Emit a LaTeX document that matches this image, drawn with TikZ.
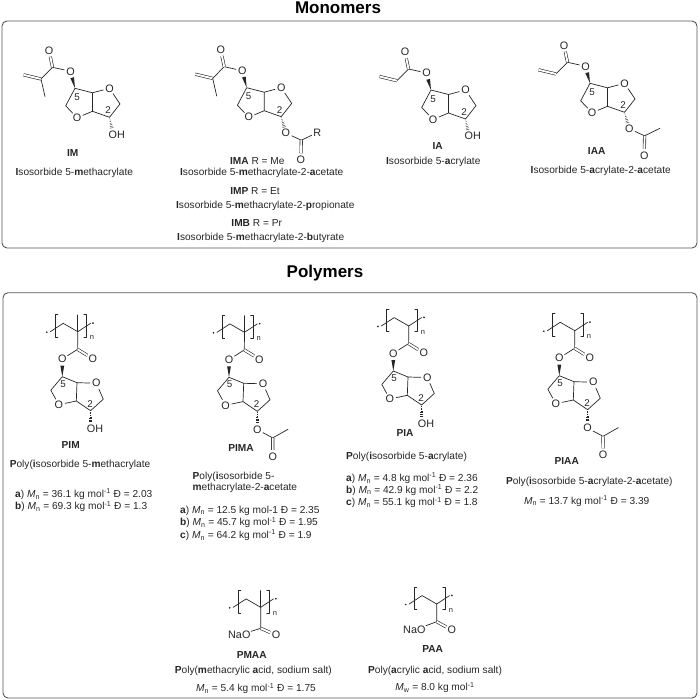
\documentclass[tikz,border=0pt]{standalone}
\usepackage{fontspec}
\setmainfont{Liberation Sans}
\usetikzlibrary{calc}
\definecolor{ink}{HTML}{262626}
\definecolor{frame}{HTML}{555555}
\tikzset{
  bond/.style={draw=ink,line width=0.7pt,line cap=round,line join=round},
  dbond/.style={bond,double=white,double distance=1.9pt,line width=0.6pt,line cap=butt},
  atom/.style={circle,inner sep=0.4pt,text=ink,font=\fontsize{10.8}{12}\selectfont},
  lab/.style={rectangle,inner sep=0.4pt,text=ink,font=\fontsize{10.8}{12}\selectfont},
  num/.style={inner sep=0pt,text=ink,font=\fontsize{9.8}{10}\selectfont},
  sub/.style={inner sep=0pt,text=ink,font=\fontsize{7.5}{9}\selectfont},
  txt/.style={inner sep=0pt,text=ink,text height=7.2pt,text depth=2pt,font=\fontsize{10.15}{12}\selectfont},
  hd/.style={inner sep=0pt,text=black,font=\fontsize{17}{20}\selectfont\bfseries},
  panel/.style={draw=frame,line width=0.9pt,rounded corners=5pt},
  dotn/.style={circle,fill=ink,inner sep=0pt,minimum size=1.9pt},
}
\newcommand{\Mn}{\textit{M}\textsubscript{n}}
\newcommand{\Mw}{\textit{M}\textsubscript{w}}
\newcommand{\kgm}{kg mol\textsuperscript{-1}}
% wedge and hashed bonds
\newcommand{\wedgeb}[3]{\fill[ink] (#1) -- ($(#1)!#3pt!(#2)!1.9pt!90:(#2)$) -- ($(#1)!#3pt!(#2)!1.9pt!-90:(#2)$) -- cycle;}
\newcommand{\hashb}[3]{\foreach \hp/\hw in {1.2/.25,2.8/.5,4.4/.75,6/1,7.6/1.25,9.2/1.5,10.8/1.75}{%
  \draw[ink,line width=0.4pt] ($(#1)!\hp pt!(#2)!\hw pt!90:(#2)$) -- ($(#1)!\hp pt!(#2)!\hw pt!-90:(#2)$);}}
% rings, relative to C5
\newcommand{\ringdraw}[1]{\draw[bond] (#1c5) -- (#1cl) -- (#1ol) -- (#1cb) -- (#1ct) -- (#1ou) -- (#1cr) -- (#1c2) -- (#1cb) (#1c5) -- (#1ct);}
\newcommand{\monoring}[1]{%
  \coordinate (#1c5) at (0,0); \coordinate (#1cl) at (-9.3,17.5);
  \node[atom] (#1ol) at (2,29.5) {O};
  \coordinate (#1cb) at (17.5,23); \coordinate (#1ct) at (17.5,4.5);
  \node[atom] (#1ou) at (34.5,0) {O};
  \coordinate (#1cr) at (45,15.7); \coordinate (#1c2) at (34.5,29);
  \ringdraw{#1}
  \node[num] (#1n5) at (2,8.7) {5}; \node[num] (#1n2) at (33,22) {2};}
\newcommand{\polyring}[1]{%
  \coordinate (#1c5) at (0,0); \coordinate (#1cl) at (-11.5,13.5);
  \node[atom] (#1ol) at (-3.5,28) {O};
  \coordinate (#1cb) at (14,24.3); \coordinate (#1ct) at (14.7,6);
  \node[atom] (#1ou) at (34,6.5) {O};
  \coordinate (#1cr) at (41,22.5); \coordinate (#1c2) at (28.3,34);
  \ringdraw{#1}
  \node[num] (#1n5) at (0.7,7.3) {5}; \node[num] (#1n2) at (27.7,27) {2};}
% monomer heads
\newcommand{\monoester}[1]{%
  \node[atom] (#1oe) at (-4.5,-17) {O};
  \coordinate (#1cc) at (-22.5,-21);
  \node[atom] (#1od) at (-26,-38) {O};
  \coordinate (#1ca) at (-34,-9.3);
  \coordinate (#1ch) at (-51.5,-13.5);
  \wedgeb{#1c5}{#1oe}{11}
  \draw[bond] (#1oe) -- (#1cc) -- (#1ca);
  \draw[dbond] (#1cc) -- (#1od);
  \draw[dbond] (#1ca) -- (#1ch);}
\newcommand{\methacryl}[1]{\monoester{#1}\coordinate (#1me) at (-30,8.3); \draw[bond] (#1ca) -- (#1me);}
\newcommand{\acryl}[1]{\monoester{#1}}
% tails
\newcommand{\monoOH}[1]{\node[lab] (#1oh) at (41.7,46) {OH}; \coordinate (#1ot) at (38,46); \hashb{#1c2}{#1ot}{11}}
\newcommand{\polyOH}[1]{\node[lab] (#1oh) at (32.7,52.3) {OH}; \coordinate (#1ot) at (28.3,52.3); \hashb{#1c2}{#1ot}{11}}
\newcommand{\tailco}[6]{% prefix, ox oy, cx cy ...
  \node[atom] (#1ao) at (#2) {O};
  \coordinate (#1ac) at (#3);
  \node[atom] (#1ad) at (#4) {O};
  #6
  \hashb{#1c2}{#1ao}{11}
  \draw[bond] (#1ao) -- (#1ac) -- (#1ae);
  \draw[dbond] (#1ac) -- (#1ad);}
\newcommand{\monoAc}[1]{\tailco{#1}{39.2,45.5}{54.6,52.5}{54.2,72}{}{\coordinate (#1ae) at (70,45);}}
\newcommand{\monoR}[1]{\tailco{#1}{39.2,45.5}{54.6,52.5}{54.2,72}{}{\node[atom] (#1ae) at (70.5,45) {R};}}
\newcommand{\polyAc}[1]{\tailco{#1}{28.3,52.4}{43.7,60.6}{43.8,79}{}{\coordinate (#1ae) at (59,52);}}
% polymer backbone, relative to the alpha carbon
\newcommand{\backbone}[2]{%
  \coordinate (#1ca) at (0,0); \coordinate (#1cm) at (-14.6,-8.4);
  \node[dotn] (#1dl) at (-31,0.5) {};
  \node[dotn] (#1dr) at (15.2,-8.6) {};
  \coordinate (#1bl) at (-27.5,0); \coordinate (#1br) at (12.8,-8.4);
  \draw[bond] (#1bl) -- (#1cm) -- (#1ca) -- (#1br);
  \draw[bond] (-19.9,-16.9) -- (-22.4,-16.9) -- (-22.4,5.7) -- (-19.9,5.7);
  \draw[bond] (6.1,-16.9) -- (8.6,-16.9) -- (8.6,5.7) -- (6.1,5.7);
  \node[sub] (#1nn) at (14.2,6) {n};
  \ifnum#2=1 \coordinate (#1me) at (0,-16.7); \draw[bond] (#1ca) -- (#1me);\fi}
\newcommand{\polyhead}[2]{%
  \node[atom] (#1oe) at (0,-17.7) {O};
  \coordinate (#1cc) at (15.3,-27.4);
  \node[atom] (#1od) at (30.4,-18) {O};
  \wedgeb{#1c5}{#1oe}{11}
  \begin{scope}[shift={(15.5,-45)}]\backbone{#1}{#2}\end{scope}
  \draw[bond] (#1oe) -- (#1cc) -- (#1ca);
  \draw[dbond] (#1cc) -- (#1od);}
\newcommand{\salt}[1]{\draw[bond] (#1ca) -- (#1cc) -- (#1na); \draw[dbond] (#1cc) -- (#1od);}
\begin{document}
\begin{tikzpicture}[x=1pt,y=-1pt]
\useasboundingbox (0,0) rectangle (699,700);
% headings and panels
\node[hd] (tmono) at (338,8) {Monomers};
\node[hd] (tpoly) at (325,272.7) {Polymers};
\draw[panel] (2,21) rectangle (697,248);
\draw[panel] (3,292.7) rectangle (697,698);
% monomers
\begin{scope}[shift={(75,88.3)}]\monoring{a}\methacryl{a}\monoOH{a}\end{scope}
\begin{scope}[shift={(246.7,87.7)}]\monoring{b}\methacryl{b}\monoR{b}\end{scope}
\begin{scope}[shift={(431,90)}]\monoring{c}\acryl{c}\monoOH{c}\end{scope}
\begin{scope}[shift={(590,83.3)}]\monoring{d}\acryl{d}\monoAc{d}\end{scope}
\node[txt] (t1) at (72.7,154.3) {\textbf{IM}};
\node[txt] (t2) at (74.3,173.3) {\textbf{I}sosorbide 5-\textbf{m}ethacrylate};
\node[txt] (t3) at (257.3,161.7) {\textbf{IMA} R = Me};
\node[txt] (t4) at (261.7,173.3) {\textbf{I}sosorbide 5-\textbf{m}ethacrylate-2-\textbf{a}cetate};
\node[txt] (t5) at (255,191.7) {\textbf{IMP} R = Et};
\node[txt] (t6) at (265.3,205.7) {\textbf{I}sosorbide 5-\textbf{m}ethacrylate-2-\textbf{p}ropionate};
\node[txt] (t7) at (256.7,224.3) {\textbf{IMB} R = Pr};
\node[txt] (t8) at (260.7,237.7) {\textbf{I}sosorbide 5-\textbf{m}ethacrylate-2-\textbf{b}utyrate};
\node[txt] (t9) at (437.7,146.7) {\textbf{IA}};
\node[txt] (t10) at (433.3,162.3) {\textbf{I}sosorbide 5-\textbf{a}crylate};
\node[txt] (t11) at (596.7,151.7) {\textbf{IAA}};
\node[txt] (t12) at (600.7,170.7) {\textbf{I}sosorbide 5-\textbf{a}crylate-2-\textbf{a}cetate};
% polymers
\begin{scope}[shift={(62.3,376.7)}]\polyring{e}\polyhead{e}{1}\polyOH{e}\end{scope}
\begin{scope}[shift={(229,377.3)}]\polyring{f}\polyhead{f}{1}\polyAc{f}\end{scope}
\begin{scope}[shift={(393.3,371)}]\polyring{g}\polyhead{g}{0}\polyOH{g}\end{scope}
\begin{scope}[shift={(559.3,375.7)}]\polyring{h}\polyhead{h}{0}\polyAc{h}\end{scope}
\node[txt] (t13) at (70.7,446) {\textbf{PIM}};
\node[txt] (t14) at (80,464.7) {\textbf{P}oly(\textbf{i}sosorbide 5-\textbf{m}ethacrylate};
\node[txt,anchor=west] (t15) at (15,495) {\textbf{a}) \Mn{} = 36.1 \kgm{} Ð = 2.03};
\node[txt,anchor=west] (t16) at (15,507.3) {\textbf{b}) \Mn{} = 69.3 \kgm{} Ð = 1.3};
\node[txt] (t17) at (241,449) {\textbf{PIMA}};
\node[txt,anchor=west] (t18) at (192.5,476.7) {\textbf{P}oly(\textbf{i}sosorbide 5-};
\node[txt,anchor=west] (t19) at (192.5,487.7) {\textbf{m}ethacrylate-2-\textbf{a}cetate};
\node[txt,anchor=west] (t20) at (180,510.7) {\textbf{a}) \Mn{} = 12.5 kg mol-1 Ð = 2.35};
\node[txt,anchor=west] (t21) at (180,523.3) {\textbf{b}) \Mn{} = 45.7 \kgm{} Ð = 1.95};
\node[txt,anchor=west] (t22) at (180,536) {\textbf{c}) \Mn{} = 64.2 \kgm{} Ð = 1.9};
\node[txt] (t23) at (405,434.3) {\textbf{PIA}};
\node[txt,anchor=west] (t24) at (346,456.7) {\textbf{P}oly(\textbf{i}sosorbide 5-\textbf{a}crylate)};
\node[txt,anchor=west] (t25) at (346,479) {\textbf{a}) \Mn{} = 4.8 \kgm{} Ð = 2.36};
\node[txt,anchor=west] (t26) at (346,490.7) {\textbf{b}) \Mn{} = 42.9 \kgm{} Ð = 2.2};
\node[txt,anchor=west] (t27) at (346,503.3) {\textbf{c}) \Mn{} = 55.1 \kgm{} Ð = 1.8};
\node[txt] (t28) at (566.7,462.3) {\textbf{PIAA}};
\node[txt] (t29) at (589.3,482.3) {\textbf{P}oly(\textbf{i}sosorbide 5-\textbf{a}crylate-2-\textbf{a}cetate)};
\node[txt] (t30) at (586.7,501.7) {\Mn{} = 13.7 \kgm{} Ð = 3.39};
% sodium salts
\begin{scope}[shift={(260.7,607.3)}]\backbone{p}{1}\end{scope}
\coordinate (pcc) at (260.7,628.3);
\node[atom] (pod) at (276,635) {O};
\node[lab] (pna) at (239.3,635) {NaO};
\salt{p}
\begin{scope}[shift={(436.7,604)}]\backbone{q}{0}\end{scope}
\coordinate (qcc) at (436.7,621.7);
\node[atom] (qod) at (451.7,630) {O};
\node[lab] (qna) at (414.3,630) {NaO};
\salt{q}
\node[txt] (t31) at (251.7,655.7) {\textbf{PMAA}};
\node[txt] (t32) at (253.3,671) {\textbf{P}oly(\textbf{m}ethacrylic \textbf{a}cid, sodium salt)};
\node[txt] (t33) at (256,689.3) {\Mn{} = 5.4 \kgm{} Ð = 1.75};
\node[txt] (t34) at (432.7,650) {\textbf{PAA}};
\node[txt] (t35) at (435,671) {\textbf{P}oly(\textbf{a}crylic \textbf{a}cid, sodium salt)};
\node[txt] (t36) at (435,688.3) {\Mw{} = 8.0 \kgm};
\end{tikzpicture}
\end{document}
